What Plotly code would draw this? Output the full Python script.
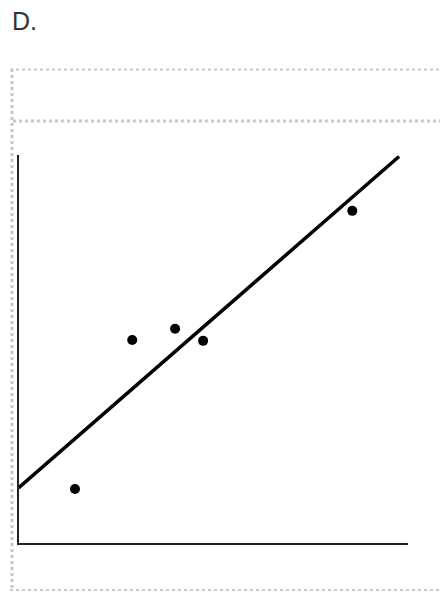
import plotly.graph_objects as go

# scatter points and the fitted line, in chart units (axes run 0..10)
point_x = [1.45, 2.92, 4.02, 4.74, 8.57]
point_y = [1.39, 5.23, 5.52, 5.21, 8.56]
fit_x = [0, 9.77]
fit_y = [1.42, 9.96]

# the page body has an 8px margin, so the figure starts at (8, 8)
OFF = 8
W, H = 448 - OFF, 612 - OFF


def px_x(v):
    return (v - OFF) / W


def px_y(v):
    return 1 - (v - OFF) / H


fig = go.Figure()

fig.add_trace(go.Scatter(
    x=fit_x, y=fit_y,
    mode='lines',
    line=dict(color='black', width=3.5),
    cliponaxis=False,
    hoverinfo='skip',
))

fig.add_trace(go.Scatter(
    x=point_x, y=point_y,
    mode='markers',
    marker=dict(color='black', size=10),
    cliponaxis=False,
))

# dotted frame around the chart
border = dict(color='#c8c8c8', dash='dot')
shapes = [
    dict(type='line', xref='paper', yref='paper',
         x0=px_x(12), x1=px_x(12), y0=px_y(69), y1=px_y(590),
         line=dict(width=3, **border)),
    dict(type='line', xref='paper', yref='paper',
         x0=px_x(10), x1=1, y0=px_y(69.5), y1=px_y(69.5),
         line=dict(width=2, **border)),
    dict(type='line', xref='paper', yref='paper',
         x0=px_x(13), x1=1, y0=px_y(121), y1=px_y(121),
         line=dict(width=3, **border)),
    dict(type='line', xref='paper', yref='paper',
         x0=px_x(10), x1=1, y0=px_y(590), y1=px_y(590),
         line=dict(width=2, **border)),
]

fig.update_layout(
    width=W, height=H,
    margin=dict(l=0, r=0, t=0, b=0),
    paper_bgcolor='white',
    plot_bgcolor='white',
    showlegend=False,
    shapes=shapes,
    annotations=[dict(
        text='D.', x=px_x(10), y=px_y(21), xref='paper', yref='paper',
        xanchor='left', yanchor='middle', showarrow=False,
        font=dict(family='Liberation Sans, Arial, sans-serif', size=25, color='#333'),
    )],
    xaxis=dict(
        domain=[px_x(18.5), px_x(408)], range=[0, 10],
        showline=True, linecolor='#222', linewidth=2,
        showgrid=False, zeroline=False, showticklabels=False, ticks='',
    ),
    yaxis=dict(
        domain=[px_y(543), px_y(155)], range=[0, 10],
        showline=True, linecolor='#222', linewidth=2,
        showgrid=False, zeroline=False, showticklabels=False, ticks='',
    ),
)

fig.write_html("out.html")
